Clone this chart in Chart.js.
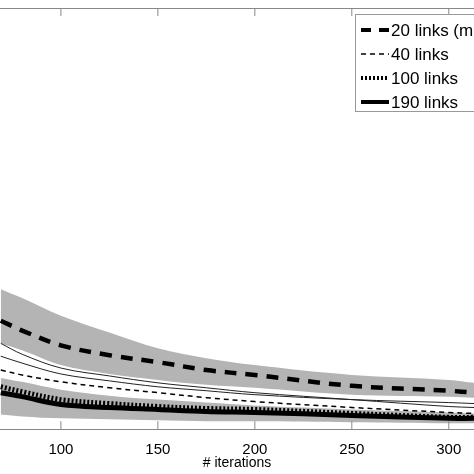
<!DOCTYPE html>
<html><head><meta charset="utf-8">
<script src="https://cdn.jsdelivr.net/npm/chart.js"></script>
<style>html,body{margin:0;padding:0;background:#fff}#c{display:block}</style>
</head><body>
<canvas id="c" width="474" height="474"></canvas>
<script>
// x positions (# iterations)
const iterations = [69, 80, 100, 125, 150, 175, 200, 250, 300, 313];
// values are heights above the x axis (arbitrary units, y axis is cropped)
const band20Upper = [142, 133, 115, 98, 82, 72, 65, 55, 50, 47];
const band20Lower = [87, 80, 65, 56, 50, 45, 42, 35, 33, 32];
const mean20 = [110, 100, 85, 75, 68, 60, 55, 44, 39, 37];
const thinA = [87, 76, 62, 54, 47, 42, 37, 30, 23, 22];
const thinB = [74, 67, 56, 49, 43, 39, 35, 30, 27, 26];
const mean40 = [60, 55, 48, 42, 37, 32, 28, 22, 17, 16];
const band2Upper = [52, 48, 40, 34, 30, 27, 24, 20, 17, 16];
const band2Lower = [15, 13, 11, 10, 9, 8, 8, 7, 6, 6];
const mean100 = [43, 38, 30, 26, 23, 21, 20, 16, 12, 12];
const mean190 = [37, 33, 25, 22, 20, 18, 17, 14, 11, 11];
const xTicks = [100, 150, 200, 250, 300];
const legendLabels = ['20 links (mean)', '40 links', '100 links', '190 links'];

const pts = arr => arr.map((v, i) => ({x: iterations[i], y: v}));
const gray = '#b4b4b4';
const base = {pointRadius: 0, tension: 0.35, fill: false};

const legendStyles = [
  {w: 4, dash: [10, 8]}, {w: 1.3, dash: [5, 4]}, {w: 4, dash: [2, 2]}, {w: 4, dash: []}
];

const extras = {
  id: 'extras',
  afterDraw(chart) {
    const ctx = chart.ctx, a = chart.chartArea, xs = chart.scales.x;
    ctx.save();
    ctx.strokeStyle = '#888'; ctx.lineWidth = 1;
    ctx.beginPath(); ctx.moveTo(0, a.top + 0.5); ctx.lineTo(474, a.top + 0.5); ctx.stroke();
    xTicks.forEach(t => {
      const px = xs.getPixelForValue(t);
      ctx.beginPath(); ctx.moveTo(px, a.bottom); ctx.lineTo(px, a.bottom - 8);
      ctx.moveTo(px, a.top); ctx.lineTo(px, a.top + 8); ctx.stroke();
    });
    // legend box
    const lx = 355, ly = 14, lw = 130, lh = 97;
    ctx.fillStyle = '#fff'; ctx.fillRect(lx, ly, lw, lh);
    ctx.strokeStyle = '#999'; ctx.strokeRect(lx + 0.5, ly + 0.5, lw, lh);
    ctx.font = '17px "Liberation Sans", Arial, sans-serif';
    ctx.textBaseline = 'middle';
    legendLabels.forEach((lab, i) => {
      const y = ly + 16 + i * 24;
      ctx.strokeStyle = '#000'; ctx.lineWidth = legendStyles[i].w;
      ctx.setLineDash(legendStyles[i].dash);
      ctx.beginPath(); ctx.moveTo(lx + 6, y); ctx.lineTo(lx + 34, y); ctx.stroke();
      ctx.setLineDash([]);
      ctx.fillStyle = '#000'; ctx.fillText(lab, lx + 36, y + 1);
    });
    ctx.restore();
  }
};

new Chart(document.getElementById('c'), {
  type: 'line',
  data: {datasets: [
    {...base, data: pts(band20Upper), borderWidth: 0, borderColor: gray},
    {...base, data: pts(band20Lower), borderWidth: 0, borderColor: gray, fill: '-1', backgroundColor: gray},
    {...base, data: pts(band2Upper), borderWidth: 0, borderColor: gray},
    {...base, data: pts(band2Lower), borderWidth: 0, borderColor: gray, fill: '-1', backgroundColor: gray},
    {...base, data: pts(thinA), borderWidth: 1, borderColor: '#222'},
    {...base, data: pts(thinB), borderWidth: 1, borderColor: '#222'},
    {...base, data: pts(mean20), borderWidth: 4.5, borderColor: '#000', borderDash: [12, 9]},
    {...base, data: pts(mean40), borderWidth: 1.5, borderColor: '#000', borderDash: [5, 4]},
    {...base, data: pts(mean100), borderWidth: 5, borderColor: '#000', borderDash: [2, 2]},
    {...base, data: pts(mean190), borderWidth: 5, borderColor: '#000'}
  ]},
  options: {
    responsive: false, animation: false,
    layout: {padding: {top: 8, left: 0, right: 0, bottom: 0}},
    plugins: {legend: {display: false}, tooltip: {enabled: false}, filler: {drawTime: 'beforeDatasetsDraw'}},
    scales: {
      x: {
        type: 'linear', min: 68.6, max: 313,
        afterBuildTicks: s => { s.ticks = xTicks.map(v => ({value: v})); },
        grid: {display: false}, border: {color: '#888'},
        ticks: {color: '#000', font: {size: 15, family: '"Liberation Sans", Arial'}, padding: 4, maxRotation: 0},
        title: {display: true, text: '# iterations', color: '#000', font: {size: 14, family: '"Liberation Sans", Arial'}, padding: {top: -8, bottom: 2}}
      },
      y: {display: false, min: 0, max: 427}
    }
  },
  plugins: [extras]
});
</script>
</body></html>
